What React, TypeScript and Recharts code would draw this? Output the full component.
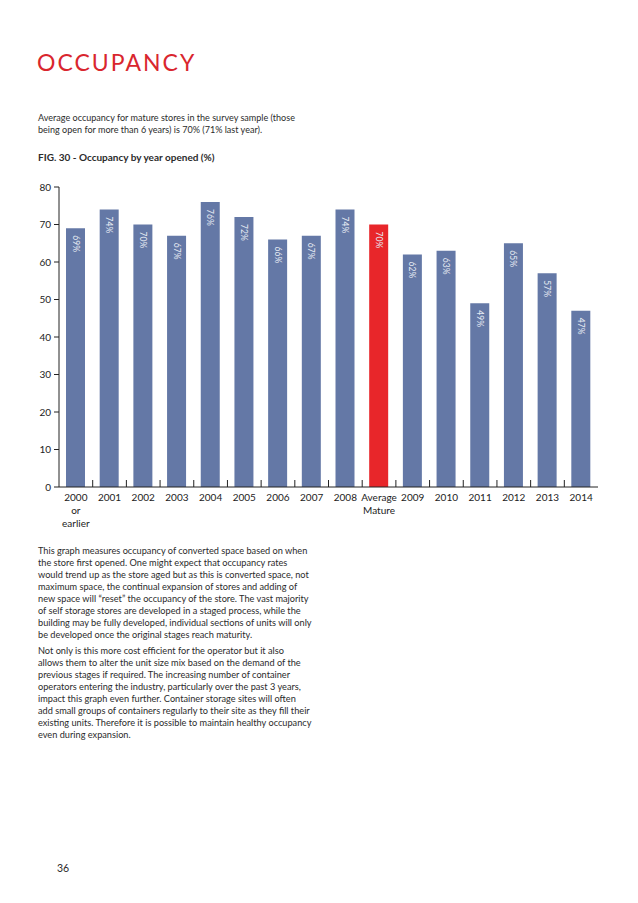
import React from 'react'
import { BarChart, Bar, XAxis, YAxis, Cell, LabelList } from 'recharts'

const categories = [
  '2000\nor\nearlier',
  '2001',
  '2002',
  '2003',
  '2004',
  '2005',
  '2006',
  '2007',
  '2008',
  'Average\nMature',
  '2009',
  '2010',
  '2011',
  '2012',
  '2013',
  '2014',
]
const occupancy = [69, 74, 70, 67, 76, 72, 66, 67, 74, 70, 62, 63, 49, 65, 57, 47]
const yTicks = [0, 10, 20, 30, 40, 50, 60, 70, 80]
const highlight = 'Average\nMature'

const BLUE = '#6478a6'
const RED = '#e8262a'
const FONT = "Lato, 'Open Sans', sans-serif"

const CHART_W = 610
const MARGIN = { top: 12, right: 12, left: 20, bottom: 0 }
const Y_W = 39
const BAND = (CHART_W - MARGIN.left - MARGIN.right - Y_W) / categories.length
const TICK_MARGIN = 4

const data = categories.map((name, i) => ({ name, value: occupancy[i] }))

// label under each bar plus a short upward tick on the left edge of its band
const CategoryTick = (props: any) => {
  const { x, y, payload, index } = props
  const lines = String(payload.value).split('\n')
  const axisY = y - TICK_MARGIN
  const edge = x - BAND / 2
  return (
    <g>
      {index > 0 && <line x1={edge} x2={edge} y1={axisY} y2={axisY - 7} stroke="#222" strokeWidth={1} />}
      <text x={x} y={y + 9.5} textAnchor="middle" fontSize={10} fill="#222" fontFamily={FONT}>
        {lines.map((l, i) => (
          <tspan key={i} x={x} dy={i === 0 ? 0 : 13}>
            {l}
          </tspan>
        ))}
      </text>
    </g>
  )
}

const ValueLabel = (props: any) => {
  const { x, y, width, value } = props
  const cx = x + width / 2
  const ty = y + 7
  return (
    <text
      x={cx}
      y={ty}
      transform={`rotate(90, ${cx}, ${ty})`}
      textAnchor="start"
      dominantBaseline="central"
      fontSize={8.5}
      fill="#e6ebf3"
      fontFamily={FONT}
    >
      {value}%
    </text>
  )
}

const p: React.CSSProperties = { margin: 0, whiteSpace: 'nowrap' }

export default function App() {
  return (
    <div
      style={{
        position: 'absolute',
        left: 0,
        top: 0,
        width: 638,
        height: 903,
        background: '#fff',
        fontFamily: FONT,
        color: '#2b2b2b',
      }}
    >
      <div
        style={{
          position: 'absolute',
          left: 37,
          top: 47,
          fontSize: 23,
          letterSpacing: 2,
          color: '#d9262e',
          lineHeight: '30px',
        }}
      >
        OCCUPANCY
      </div>

      <div style={{ position: 'absolute', left: 38, top: 112, fontSize: 9.05, lineHeight: '11.5px' }}>
        <p style={p}>Average occupancy for mature stores in the survey sample (those</p>
        <p style={p}>being open for more than 6 years) is 70% (71% last year).</p>
      </div>

      <div
        style={{ position: 'absolute', left: 38, top: 151, fontSize: 10, fontWeight: 700, lineHeight: '12px' }}
      >
        FIG. 30 - Occupancy by year opened (%)
      </div>

      <div style={{ position: 'absolute', left: 0, top: 175 }}>
        <BarChart width={CHART_W} height={370} data={data} margin={MARGIN} barSize={19}>
          <XAxis
            dataKey="name"
            interval={0}
            height={58}
            axisLine={{ stroke: '#222' }}
            tickLine={false}
            tickSize={0}
            tickMargin={TICK_MARGIN}
            tick={<CategoryTick />}
          />
          <YAxis
            domain={[0, 80]}
            ticks={yTicks}
            width={Y_W}
            axisLine={{ stroke: '#222' }}
            tickLine={{ stroke: '#222' }}
            tickSize={5}
            tickMargin={3}
            tick={{ fontSize: 10, fill: '#222', fontFamily: FONT }}
          />
          <Bar dataKey="value" isAnimationActive={false}>
            {data.map((d) => (
              <Cell key={d.name} fill={d.name === highlight ? RED : BLUE} />
            ))}
            <LabelList dataKey="value" content={<ValueLabel />} />
          </Bar>
        </BarChart>
      </div>

      <div style={{ position: 'absolute', left: 38, top: 545, fontSize: 9.2, lineHeight: '12px' }}>
        <p style={p}>This graph measures occupancy of converted space based on when</p>
        <p style={p}>the store first opened. One might expect that occupancy rates</p>
        <p style={p}>would trend up as the store aged but as this is converted space, not</p>
        <p style={p}>maximum space, the continual expansion of stores and adding of</p>
        <p style={p}>new space will “reset” the occupancy of the store. The vast majority</p>
        <p style={p}>of self storage stores are developed in a staged process, while the</p>
        <p style={p}>building may be fully developed, individual sections of units will only</p>
        <p style={p}>be developed once the original stages reach maturity.</p>
        <div style={{ height: 4 }} />
        <p style={p}>Not only is this more cost efficient for the operator but it also</p>
        <p style={p}>allows them to alter the unit size mix based on the demand of the</p>
        <p style={p}>previous stages if required. The increasing number of container</p>
        <p style={p}>operators entering the industry, particularly over the past 3 years,</p>
        <p style={p}>impact this graph even further. Container storage sites will often</p>
        <p style={p}>add small groups of containers regularly to their site as they fill their</p>
        <p style={p}>existing units. Therefore it is possible to maintain healthy occupancy</p>
        <p style={p}>even during expansion.</p>
      </div>

      <div style={{ position: 'absolute', left: 57, top: 861, fontSize: 10.5, lineHeight: '14px' }}>36</div>
    </div>
  )
}
